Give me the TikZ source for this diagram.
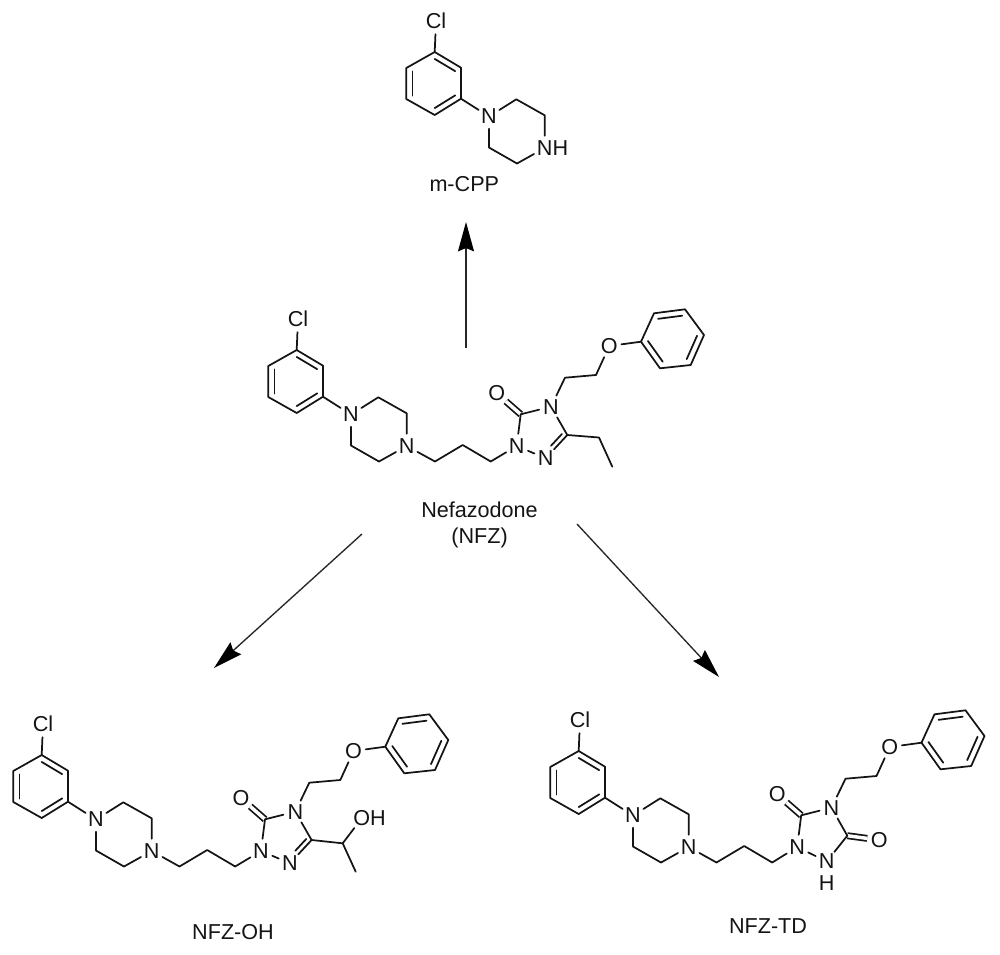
\documentclass[tikz,border=0pt]{standalone}
\usepackage{fontspec}
\setmainfont{Liberation Sans}
\usetikzlibrary{calc,arrows.meta}
\tikzset{
  x=0.75pt,y=-0.75pt,
  bond/.style={line width=1.3pt,line cap=round,line join=round,color=black!92},
  dbl/.style={bond,double=white,double distance=2.6pt,line cap=butt},
  atom/.style={circle,inner sep=0pt,minimum size=18pt,font=\fontsize{16.2}{16.2}\selectfont,text=black!92},
  chemlabel/.style={inner sep=0pt,align=center,text=black!92},
  rxn/.style={line width=1pt,color=black!85,-{Stealth[length=22pt,width=12pt,inset=2.5pt,color=black]}}
}
\newcommand\inner[3]{\draw[bond] ($(#1)!.22!(#3)$) -- ($(#2)!.22!(#3)$);}
% chlorophenyl piperazine, drawn in the coordinates of the central molecule
\newcommand\arylpip[3]{%
 \begin{scope}[shift={(#1,#2)}]
  \node[atom] (cl) at (298,319) {Cl};
  \coordinate (r1) at (296.7,350); \coordinate (r2) at (323,365.7);
  \coordinate (r3) at (323,396.7); \coordinate (r4) at (296.7,413);
  \coordinate (r5) at (268.3,397); \coordinate (r6) at (268.3,366);
  \coordinate (rc) at ($(r1)!.5!(r4)$);
  \node[atom] (n1) at (351,414.5) {N};
  \coordinate (p1) at (378.3,397.3); \coordinate (p2) at (406.7,413.3);
  \node[atom] (n2) at (406.7,446) {#3};
  \coordinate (p3) at (379,461.5); \coordinate (p4) at (351,445.5);
  \draw[bond] (cl) -- (r1);
  \draw[bond] (r1) -- (r2) -- (r3) -- (r4) -- (r5) -- (r6) -- cycle;
  \inner{r1}{r2}{rc}\inner{r3}{r4}{rc}\inner{r5}{r6}{rc}
  \draw[bond] (r3) -- (n1) -- (p1) -- (p2) -- (n2) -- (p3) -- (p4) -- (n1);
 \end{scope}}
\newcommand\propyl[2]{%
 \begin{scope}[shift={(#1,#2)}]
  \coordinate (c1) at (435,461.5); \coordinate (c2) at (462.7,445); \coordinate (c3) at (490.7,461.5);
  \draw[bond] (n2) -- (c1) -- (c2) -- (c3);
 \end{scope}}
% ring atoms shared by the three triazole compounds plus the phenoxyethyl arm
\newcommand\triaz[2]{%
 \begin{scope}[shift={(#1,#2)}]
  \node[atom] (tn1) at (516.7,446) {N};
  \coordinate (co) at (520.7,414.3);
  \node[atom] (oo) at (496.7,393.3) {O};
  \node[atom] (n4) at (551,406.7) {N};
  \coordinate (e1) at (565,377.7); \coordinate (e2) at (596,375);
  \node[atom] (ox) at (609.3,346) {O};
  \coordinate (h1) at (641,341.7); \coordinate (h2) at (654,313.3);
  \coordinate (h3) at (685,309.3); \coordinate (h4) at (704,335);
  \coordinate (h5) at (690.7,365); \coordinate (h6) at (660,368.3);
  \coordinate (hc) at ($(h1)!.5!(h4)$);
  \draw[dbl] (co) -- (oo);
  \draw[bond] (c3) -- (tn1) -- (co) -- (n4) -- (e1) -- (e2) -- (ox) -- (h1);
  \draw[bond] (h1) -- (h2) -- (h3) -- (h4) -- (h5) -- (h6) -- cycle;
  \inner{h2}{h3}{hc}\inner{h4}{h5}{hc}\inner{h6}{h1}{hc}
 \end{scope}}
% C5=N4 part of the triazolone
\newcommand\cfive[2]{%
 \begin{scope}[shift={(#1,#2)}]
  \coordinate (c5) at (567.3,435);
  \node[atom] (n3) at (545.7,458.3) {N};
  \coordinate (tc) at (540.3,430);
  \draw[bond] (tn1) -- (n3) -- (c5) -- (n4);
  \draw[bond,shorten >=7pt] ($(c5)!.2!(tc)$) -- ($(n3)!.2!(tc)$);
 \end{scope}}
\begin{document}
\begin{tikzpicture}
\fill[white] (0,0) rectangle (1000,954);
\useasboundingbox (0,0) rectangle (1000,954);

% m-CPP
\begin{scope}[name prefix=a-]
 \arylpip{138}{-298}{N\rlap{H}}
\end{scope}

% central molecule
\begin{scope}[name prefix=b-]
 \arylpip{0}{0}{N}
 \propyl{0}{0}
 \triaz{0}{0}
 \cfive{0}{0}
 \coordinate (m1) at (599,437.5);
 \coordinate (m2) at (612.3,466.7);
 \draw[bond] (c5) -- (m1) -- (m2);
\end{scope}

% NFZ-OH
\begin{scope}[name prefix=c-]
 \arylpip{-255}{405}{N}
 \propyl{-255.5}{405}
 \triaz{-255.7}{405}
 \cfive{-255.7}{405}
 \coordinate (m1) at (342.7,843.3);
 \coordinate (m2) at (355.7,871.7);
 \node[atom] (oh) at (361.7,818.3) {O\rlap{H}};
 \draw[bond] (c5) -- (m1) -- (m2);
 \draw[bond] (m1) -- (oh);
\end{scope}

% NFZ-TD
\begin{scope}[name prefix=d-]
 \arylpip{282}{401}{N}
 \propyl{281.5}{401}
 \triaz{280.5}{401}
 \coordinate (c5) at (847.3,835.7);
 \node[atom] (o5) at (879.3,840) {O};
 \node[atom] (nh) at (826.7,861.5) {N};
 \node[atom] (hh) at (826.7,883) {H};
 \draw[dbl] (c5) -- (o5);
 \draw[bond] (tn1) -- (nh) -- (c5) -- (n4);
\end{scope}

\node[chemlabel,font=\fontsize{16.2}{16.2}\selectfont] (lm) at (464.3,184.3) {m-CPP};
\node[chemlabel,font=\fontsize{16.2}{20}\selectfont] (ln) at (479.5,525) {Nefazodone\\(NFZ)};
\node[chemlabel,font=\fontsize{16.2}{16.2}\selectfont] (lo) at (233,932) {NFZ-OH};
\node[chemlabel,font=\fontsize{16.2}{16.2}\selectfont] (lt) at (768,926) {NFZ-TD};

\coordinate (s0) at (466,348); \coordinate (t0) at (466,222);
\coordinate (s1) at (362,534); \coordinate (t1) at (214,668);
\coordinate (s2) at (577,524); \coordinate (t2) at (719,677);
\draw[rxn] (s0) -- (t0);
\draw[rxn] (s1) -- (t1);
\draw[rxn] (s2) -- (t2);
\end{tikzpicture}
\end{document}
